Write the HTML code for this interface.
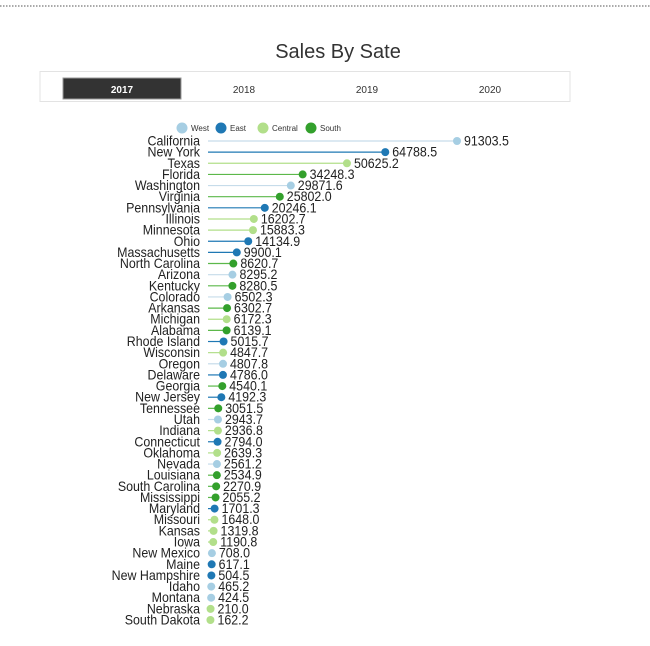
<!DOCTYPE html>
<html><head><meta charset="utf-8"><style>
body{margin:0;width:650px;height:641px;background:#fff;overflow:hidden;font-family:"Liberation Sans",sans-serif;}
</style></head><body>
<svg width="650" height="641">
<line x1="0" y1="6" x2="650" y2="6" stroke="#555" stroke-dasharray="1.5,1.5"/>
<text x="338" y="58" text-anchor="middle" font-size="20" fill="#333">Sales By Sate</text>
<rect x="40" y="71.5" width="530" height="30" fill="#fff" stroke="#e3e3e3"/>
<rect x="63" y="78" width="118" height="21" fill="#333" stroke="#999"/>
<text x="122" y="93" text-anchor="middle" font-size="10" font-weight="bold" fill="#fff">2017</text>
<text x="244" y="93" text-anchor="middle" font-size="10" fill="#333">2018</text>
<text x="367" y="93" text-anchor="middle" font-size="10" fill="#333">2019</text>
<text x="490" y="93" text-anchor="middle" font-size="10" fill="#333">2020</text>
<g id="legend"></g>
<g id="plot"></g>
</svg>
<script>
const states=["California","New York","Texas","Florida","Washington","Virginia","Pennsylvania","Illinois","Minnesota","Ohio","Massachusetts","North Carolina","Arizona","Kentucky","Colorado","Arkansas","Michigan","Alabama","Rhode Island","Wisconsin","Oregon","Delaware","Georgia","New Jersey","Tennessee","Utah","Indiana","Connecticut","Oklahoma","Nevada","Louisiana","South Carolina","Mississippi","Maryland","Missouri","Kansas","Iowa","New Mexico","Maine","New Hampshire","Idaho","Montana","Nebraska","South Dakota"];
const sales=[91303.5,64788.5,50625.2,34248.3,29871.6,25802.0,20246.1,16202.7,15883.3,14134.9,9900.1,8620.7,8295.2,8280.5,6502.3,6302.7,6172.3,6139.1,5015.7,4847.7,4807.8,4786.0,4540.1,4192.3,3051.5,2943.7,2936.8,2794.0,2639.3,2561.2,2534.9,2270.9,2055.2,1701.3,1648.0,1319.8,1190.8,708.0,617.1,504.5,465.2,424.5,210.0,162.2];
const regions=["W","E","C","S","W","S","E","C","C","E","E","S","W","S","W","S","C","S","E","C","W","E","S","E","S","W","C","E","C","W","S","S","S","E","C","C","C","W","E","E","W","W","C","C"];
const legendNames=["West","East","Central","South"];
const legendKeys=["W","E","C","S"];
const dotC={W:"#a6cee3",E:"#1f78b4",C:"#b2df8a",S:"#33a02c"};
const lineC={W:"#c6dcea",E:"#1f78b4",C:"#b2df8a",S:"#5cb84a"};
const NS="http://www.w3.org/2000/svg";
const x0=210,xMax=91303.5,xW=247,lineStart=208;
const xs=v=>x0+v/xMax*xW;
const y0=141,step=(620-141)/(states.length-1);
const ys=i=>y0+i*step;
function mk(t,a,p){const e=document.createElementNS(NS,t);for(const k in a)e.setAttribute(k,a[k]);p.appendChild(e);return e;}
const plot=document.getElementById('plot'),leg=document.getElementById('legend');
const lx=[182,221,263,311];
legendNames.forEach((n,i)=>{
 const c=mk('circle',{cx:lx[i],cy:128,r:5.5,fill:dotC[legendKeys[i]]},leg);
 
 
 const t=mk('text',{x:lx[i]+9,y:131,'font-size':8,fill:'#333'},leg);t.textContent=n;
 
 
});
states.forEach((s,i)=>{
 const y=ys(i),x=xs(sales[i]),r=regions[i];
 const l=mk('line',{x1:lineStart,y1:y,x2:x,y2:y,stroke:lineC[r],'stroke-width':1.2},plot);
 
 
 const c=mk('circle',{cx:x,cy:y,r:4,fill:dotC[r]},plot);
 
 
 const t=mk('text',{x:200,y:y+4.5,'text-anchor':'end','font-size':13.5,fill:'#222',transform:`translate(200 0) scale(0.92 1) translate(-200 0)`},plot);
 t.textContent=s;
 
 
 const v=mk('text',{x:x+7,y:y+4.5,'font-size':13.5,fill:'#222',transform:`translate(${x+7} 0) scale(0.92 1) translate(${-(x+7)} 0)`},plot);
 v.textContent=sales[i].toFixed(1);
 
 
});
</script>
</body></html>
